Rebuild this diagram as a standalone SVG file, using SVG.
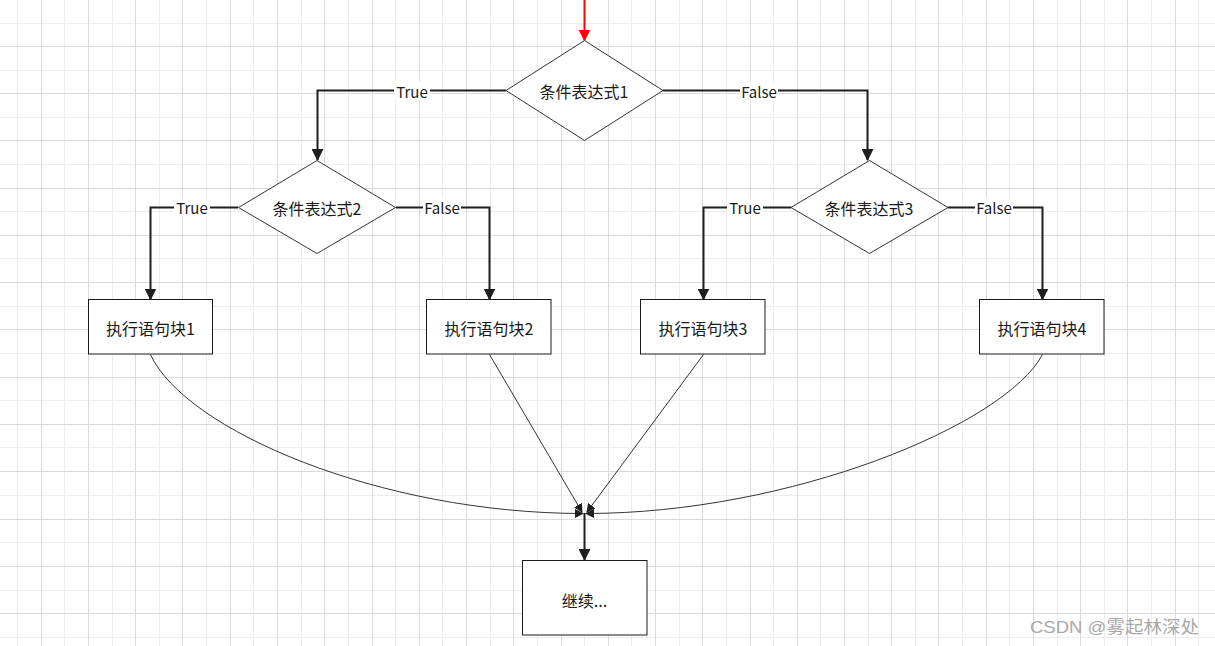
<svg xmlns="http://www.w3.org/2000/svg" width="1215" height="646" viewBox="0 0 1215 646">
<style>
.minor{stroke:#ededed;stroke-width:1;fill:none}
.major{stroke:#dadada;stroke-width:1;fill:none}
.shape{fill:#ffffff;stroke:#333333;stroke-width:1}
.box{fill:#ffffff;stroke:#1a1a1a;stroke-width:1}
.txt{font-family:"Noto Sans CJK SC","Microsoft YaHei",sans-serif;font-size:16px;fill:#1a1a1a;text-anchor:middle;dominant-baseline:central}
.lbl{font-family:"Noto Sans CJK SC","Microsoft YaHei",sans-serif;font-size:15px;fill:#1a1a1a;text-anchor:middle;dominant-baseline:central}
.lblbg{fill:#ffffff}
.thick{fill:none;stroke:#1e1e1e;stroke-width:2}
.thin{fill:none;stroke:#333333;stroke-width:1}
.red{fill:none;stroke:#ff0000;stroke-width:2}
</style>
<defs>
<marker id="ah" markerUnits="userSpaceOnUse" markerWidth="12" markerHeight="12" refX="11" refY="6" orient="auto">
<path d="M0,0 L12,6 L0,12 Z" fill="#1e1e1e"/>
</marker>
<marker id="ahr" markerUnits="userSpaceOnUse" markerWidth="12" markerHeight="12" refX="11" refY="6" orient="auto">
<path d="M0,0 L12,6 L0,12 Z" fill="#ff0000"/>
</marker>
<marker id="ahs" markerUnits="userSpaceOnUse" markerWidth="9" markerHeight="9" refX="8" refY="4.5" orient="auto">
<path d="M0,0 L9,4.5 L0,9 Z" fill="#1e1e1e"/>
</marker>
</defs>
<rect width="1215" height="646" fill="#ffffff"/>
<g id="grid">
<path class="minor" d="M17.5,0V646M64.5,0V646M112.5,0V646M159.5,0V646M206.5,0V646M253.5,0V646M301.5,0V646M348.5,0V646M395.5,0V646M442.5,0V646M490.5,0V646M537.5,0V646M584.5,0V646M631.5,0V646M679.5,0V646M726.5,0V646M773.5,0V646M820.5,0V646M868.5,0V646M915.5,0V646M962.5,0V646M1009.5,0V646M1057.5,0V646M1104.5,0V646M1151.5,0V646M1198.5,0V646M0,23.5H1215M0,70.5H1215M0,117.5H1215M0,164.5H1215M0,211.5H1215M0,258.5H1215M0,306.5H1215M0,353.5H1215M0,400.5H1215M0,447.5H1215M0,495.5H1215M0,542.5H1215M0,590.5H1215M0,637.5H1215"/>
<path class="major" d="M41.5,0V646M88.5,0V646M135.5,0V646M182.5,0V646M230.5,0V646M277.5,0V646M324.5,0V646M372.5,0V646M419.5,0V646M466.5,0V646M513.5,0V646M561.5,0V646M608.5,0V646M655.5,0V646M702.5,0V646M750.5,0V646M797.5,0V646M844.5,0V646M891.5,0V646M938.5,0V646M986.5,0V646M1033.5,0V646M1080.5,0V646M1127.5,0V646M1175.5,0V646M0,46.5H1215M0,93.5H1215M0,140.5H1215M0,188.5H1215M0,235.5H1215M0,282.5H1215M0,329.5H1215M0,377.5H1215M0,424.5H1215M0,471.5H1215M0,519.5H1215M0,566.5H1215M0,613.5H1215"/>
</g>
<g id="connectors">
<path class="red" d="M584.5,0 V40.5" marker-end="url(#ahr)"/>
<path class="thick" d="M506,90.5 H317.5 V160" marker-end="url(#ah)"/>
<path class="thick" d="M663,90.5 H867.5 V160" marker-end="url(#ah)"/>
<path class="thick" d="M238,207.5 H150.5 V299.5" marker-end="url(#ah)"/>
<path class="thick" d="M396,207.5 H489.5 V299.5" marker-end="url(#ah)"/>
<path class="thick" d="M791,207.5 H703.5 V299.5" marker-end="url(#ah)"/>
<path class="thick" d="M948,207.5 H1042.5 V299.5" marker-end="url(#ah)"/>
<path class="thin" d="M150.5,354.5 C185,430 380,513.5 583,513.5" marker-end="url(#ahs)"/>
<path class="thin" d="M1042.5,354.5 C1005,425 790,513.5 586,513.5" marker-end="url(#ahs)"/>
<path class="thin" d="M489.5,354.5 L582,512" marker-end="url(#ahs)"/>
<path class="thin" d="M703.5,354.5 L587,512" marker-end="url(#ahs)"/>
<path class="thick" d="M584.5,513 V560" marker-end="url(#ah)"/>
<rect class="lblbg" x="394" y="82" width="36" height="18"/>
<text class="lbl" x="412" y="91">True</text>
<rect class="lblbg" x="740" y="82" width="38" height="18"/>
<text class="lbl" x="759" y="91">False</text>
<rect class="lblbg" x="174" y="198" width="36" height="18"/>
<text class="lbl" x="192" y="207">True</text>
<rect class="lblbg" x="423" y="198" width="38" height="18"/>
<text class="lbl" x="442" y="207">False</text>
<rect class="lblbg" x="727" y="198" width="36" height="18"/>
<text class="lbl" x="745" y="207">True</text>
<rect class="lblbg" x="975" y="198" width="38" height="18"/>
<text class="lbl" x="994" y="207">False</text>
</g>
<g id="cond1">
<polygon class="shape" points="584.5,40.5 663,90.5 584.5,140.5 506,90.5"/>
<text class="txt" x="584" y="91">条件表达式1</text>
</g>
<g id="cond2">
<polygon class="shape" points="317,160.5 395.5,207.5 317,253.5 238.5,207.5"/>
<text class="txt" x="317" y="208">条件表达式2</text>
</g>
<g id="cond3">
<polygon class="shape" points="869.5,160.5 948,207.5 869.5,253.5 791,207.5"/>
<text class="txt" x="869" y="208">条件表达式3</text>
</g>
<g id="block1">
<rect class="box" x="88.5" y="299.5" width="124" height="54.5"/>
<text class="txt" x="150.5" y="328">执行语句块1</text>
</g>
<g id="block2">
<rect class="box" x="426.5" y="299.5" width="124.5" height="54.5"/>
<text class="txt" x="489" y="328">执行语句块2</text>
</g>
<g id="block3">
<rect class="box" x="640.5" y="299.5" width="124.5" height="54.5"/>
<text class="txt" x="703" y="328">执行语句块3</text>
</g>
<g id="block4">
<rect class="box" x="979.5" y="299.5" width="124.5" height="54.5"/>
<text class="txt" x="1042" y="328">执行语句块4</text>
</g>
<g id="continue">
<rect class="box" x="522.5" y="560.5" width="124.5" height="74.5"/>
<text class="txt" x="584.5" y="600">继续...</text>
</g>
<text x="1030" y="633" font-family="'Liberation Sans','Noto Sans CJK SC',sans-serif" font-size="17" fill="#a8a8a8" textLength="169" lengthAdjust="spacingAndGlyphs">CSDN @雾起林深处</text>
</svg>
